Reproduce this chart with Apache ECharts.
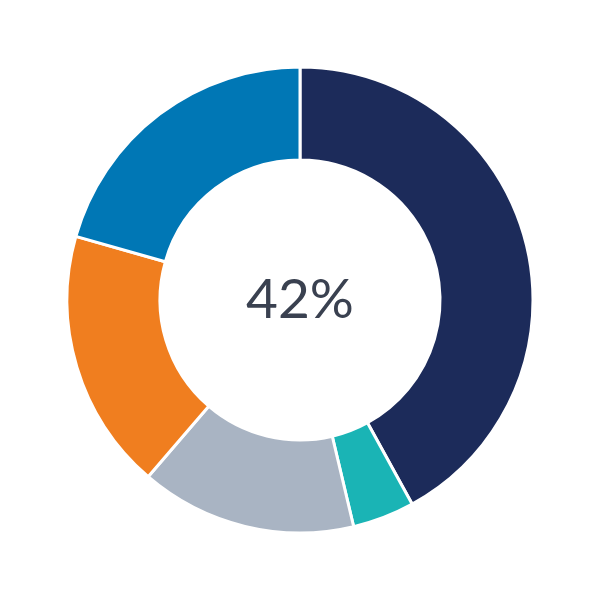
<!DOCTYPE html>
<html><head><meta charset="utf-8">
<script src="https://cdn.jsdelivr.net/npm/echarts@6/dist/echarts.min.js"></script>
<style>html,body{margin:0;padding:0;background:#fff}#c{width:600px;height:600px}</style>
</head><body><div id="c"></div>
<script>
const categories = ['A','B','C','D','E'];
const values = [42, 4.3, 15, 18.1, 20.6];
const colors = ['#1c2b5a', '#1ab4b5', '#a9b4c3', '#f07e1f', '#0077b5'];
const centerLabel = '42%';
const chart = echarts.init(document.getElementById('c'));
chart.setOption({
  animation: false,
  title: { text: centerLabel, left: 'center', top: 'middle',
    textStyle: { fontFamily: 'Lato', fontWeight: 'normal', fontSize: 55, color: '#3a4150' } },
  series: [{
    type: 'pie', center: ['50%','50%'], radius: [140, 233], startAngle: 90, clockwise: true,
    label: { show: false }, labelLine: { show: false },
    itemStyle: { borderColor: '#fff', borderWidth: 3 },
    data: categories.map((c,i)=>({ name: c, value: values[i], itemStyle: { color: colors[i] } }))
  }]
});
</script></body></html>
